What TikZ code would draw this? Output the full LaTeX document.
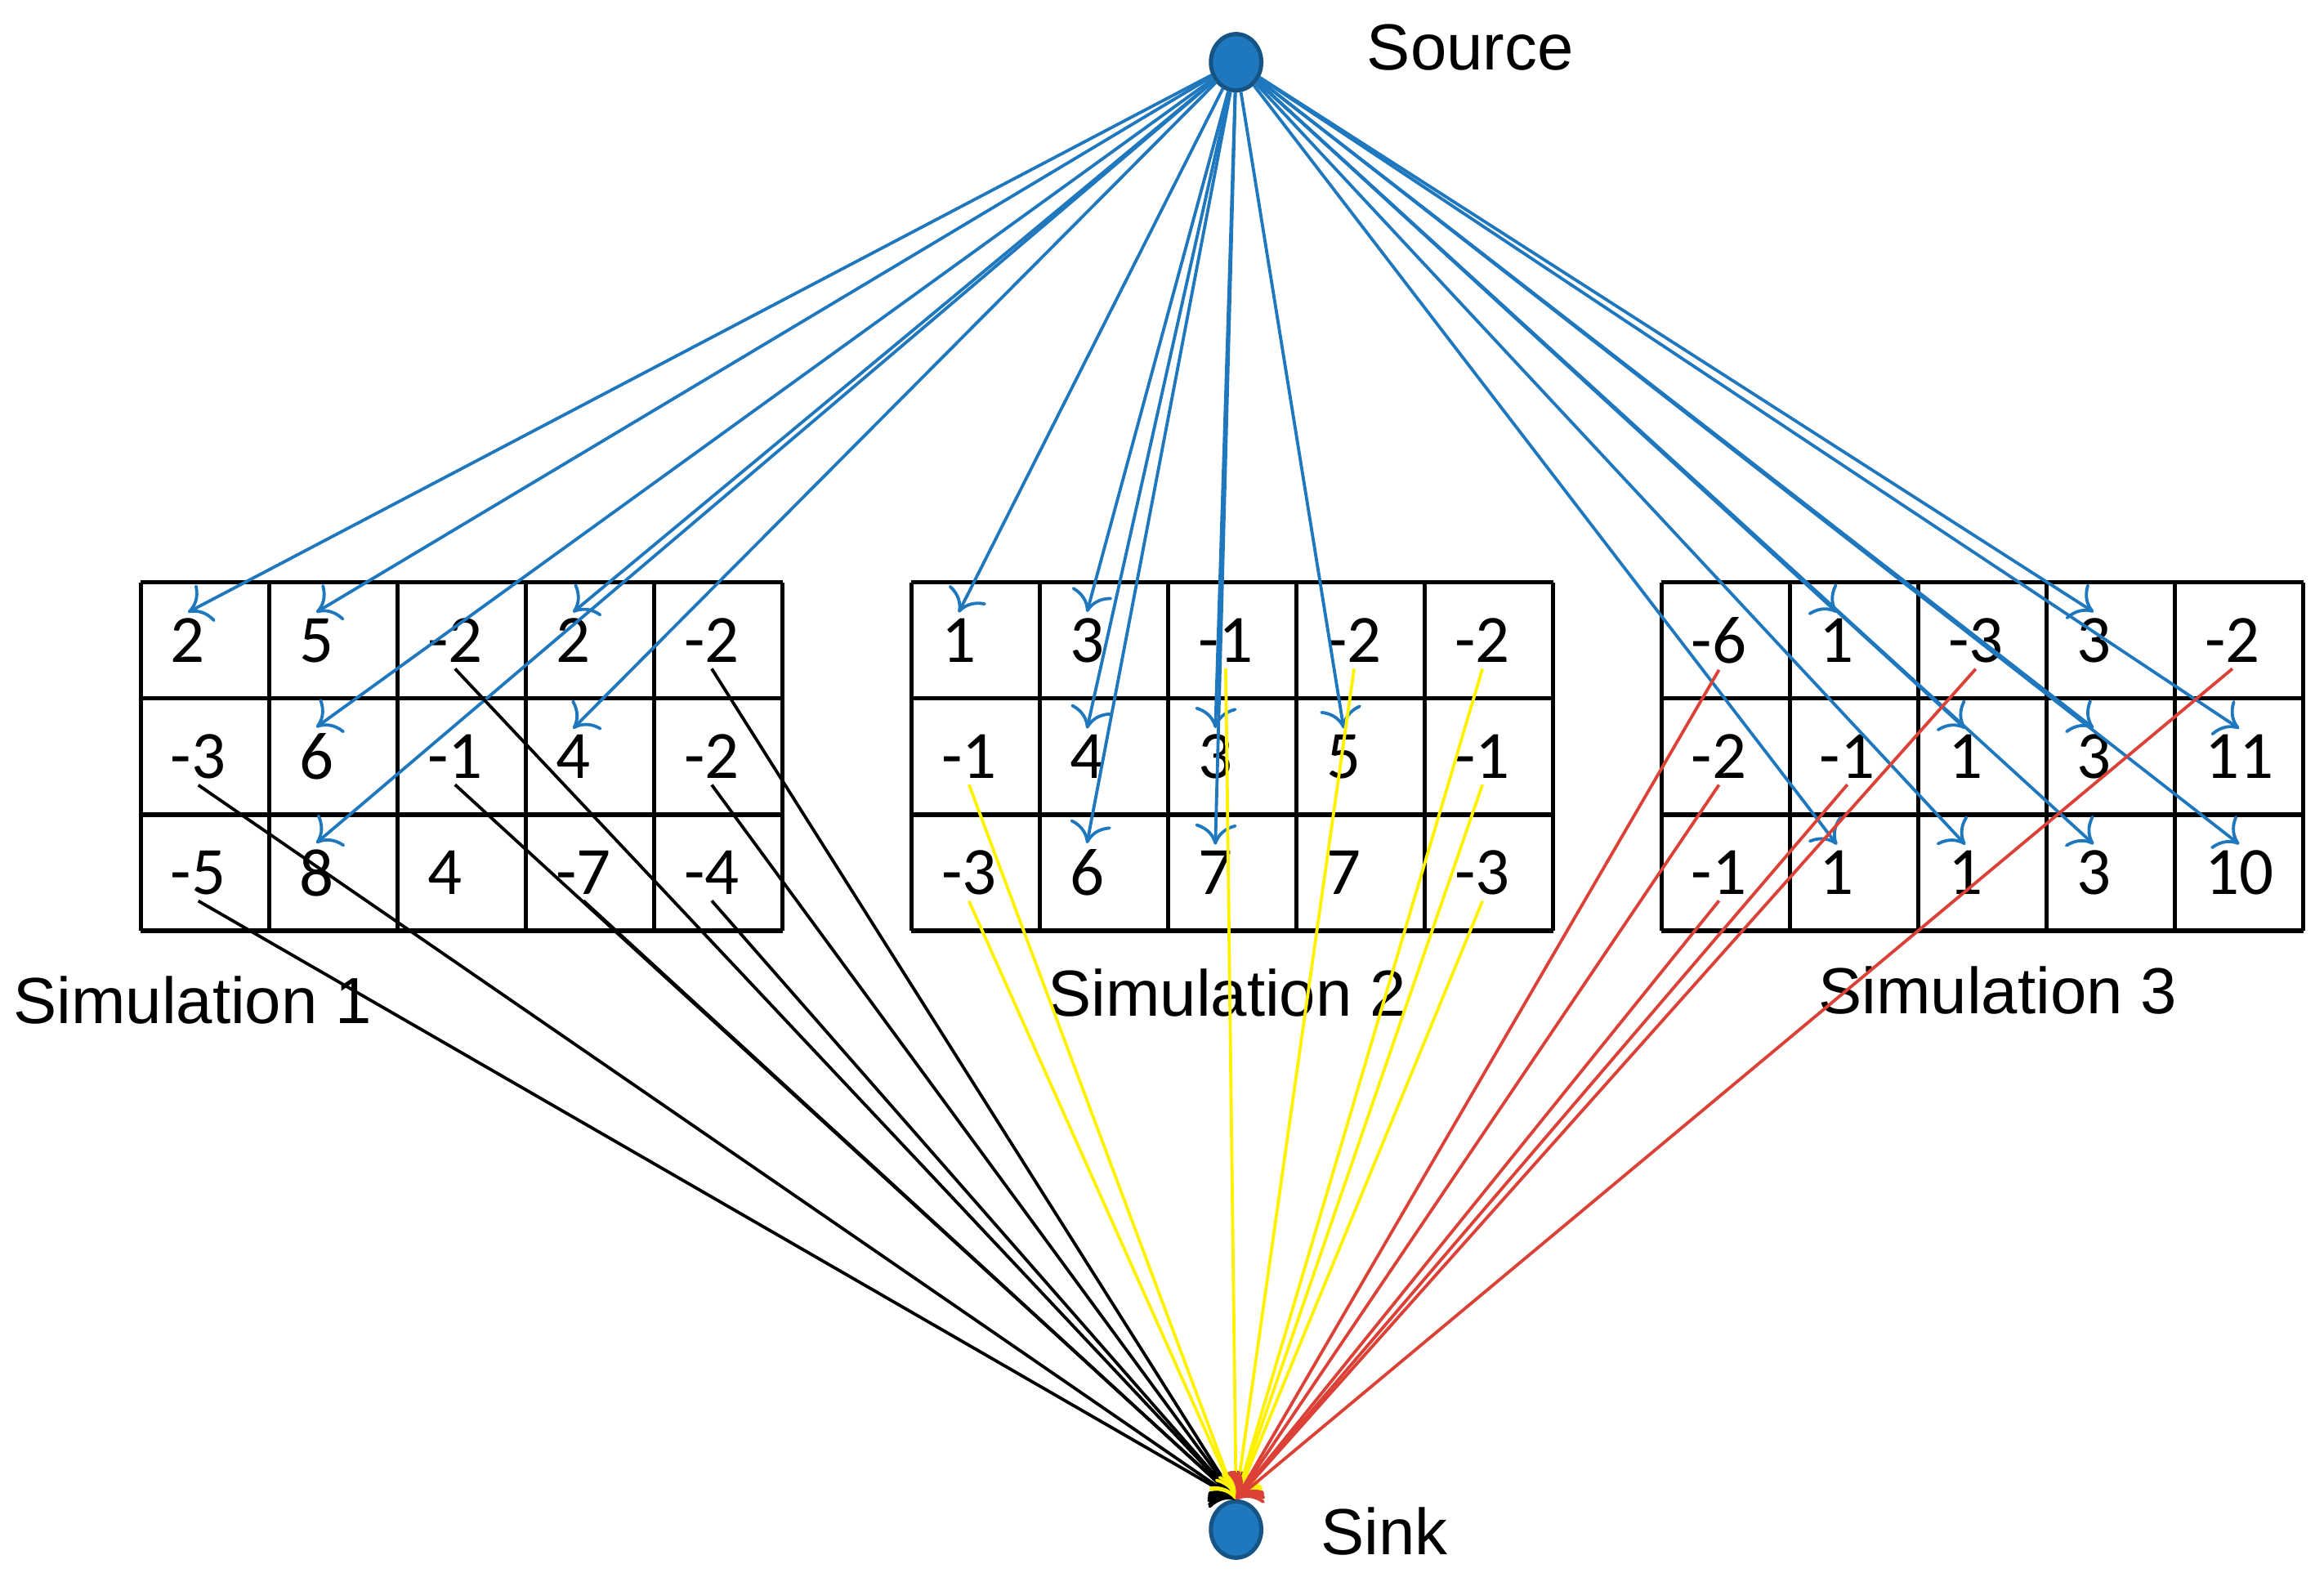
\documentclass[tikz,border=0pt]{standalone}
\usepackage{fontspec}
\setmainfont{Liberation Sans}
\newfontfamily\cellfont{Carlito}
\usetikzlibrary{shapes.geometric,arrows.meta}
\definecolor{srcblue}{RGB}{31,120,190}
\definecolor{redflow}{RGB}{220,65,55}
\begin{document}
\begin{tikzpicture}[x=0.01cm,y=-0.01cm,
    num/.style={font=\cellfont\fontsize{13}{13}\selectfont,inner sep=1pt,anchor=west},
    lbl/.style={font=\fontsize{12.5}{13}\selectfont,inner sep=0pt},
    bal/.style={ellipse,draw=srcblue!70!black,thick,fill=srcblue,minimum width=0.34cm,minimum height=0.38cm,inner sep=0pt},
    flow/.style={-{To[length=4pt,width=8pt]},line width=0.6pt}]
  \useasboundingbox (0,0) rectangle (1568,1067);
  % terminals
  \node[bal] (src) at (834,42) {};
  \node[bal] (snk) at (834,1032) {};
  \node[lbl] at (992,32) {Source};
  \node[lbl] at (934,1033) {Sink};
  % grids
  \foreach \k/\x in {1/95,2/615,3/1121}{
    \foreach \i in {0,...,5}
      \draw[line width=0.8pt] ({\x+\i*86.6},393) -- ({\x+\i*86.6},628);
    \foreach \j in {0,...,3}
      \draw[line width=0.8pt] (\x,{393+\j*78.33}) -- ({\x+433},{393+\j*78.33});
  }
  \node[lbl] at (130,675) {Simulation 1};
  \node[lbl] at (828,670) {Simulation 2};
  \node[lbl] at (1348,668) {Simulation 3};
  % cell values
  \foreach \k/\x/\rows in {1/95/{{2,5,-2,2,-2},{-3,6,-1,4,-2},{-5,8,4,-7,-4}},
                           2/615/{{1,3,-1,-2,-2},{-1,4,3,5,-1},{-3,6,7,7,-3}},
                           3/1121/{{-6,1,-3,3,-2},{-2,-1,1,3,11},{-1,1,1,3,10}}}
    \foreach \row [count=\r] in \rows
      \foreach \v [count=\c] in \row
        \node[num] (n\k\r\c) at ({\x+(\c-1)*86.6+16},{393+(\r-0.5)*78.33}) {\v};
  % source arcs
  \foreach \t in {111,112,114,122,124,132,211,212,222,223,224,232,233,312,314,325,335,323,324,332,333,334}
    \draw[flow,srcblue] (src) -- (n\t.north);
  % sink arcs
  \foreach \t in {113,115,121,123,125,131,134,135}
    \draw[flow,black] (n\t.south) -- (snk.north);
  \foreach \t in {213,214,215,221,225,231,235}
    \draw[flow,yellow] (n\t.south) -- (snk.north);
  \foreach \t in {311,313,315,321,322,331}
    \draw[flow,redflow] (n\t.south) -- (snk.north);
\end{tikzpicture}
\end{document}
